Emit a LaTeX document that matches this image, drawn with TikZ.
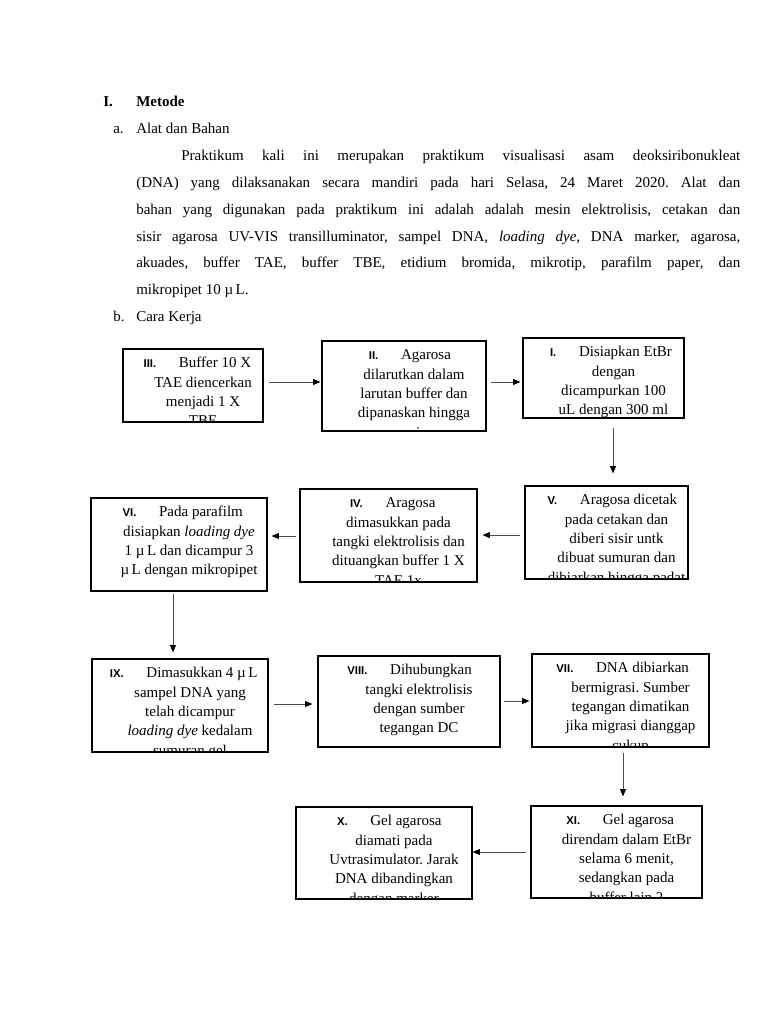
\documentclass[tikz,border=0pt]{standalone}
\usepackage{fontspec}
\setmainfont{Liberation Serif}
\newfontfamily\numfont{Liberation Sans}
\usetikzlibrary{arrows.meta}
\frenchspacing
\newcommand\nm[1]{\hspace*{18pt}\makebox[0pt][r]{{\numfont\bfseries\fontsize{8.5pt}{10pt}\selectfont #1}\hspace{17pt}}}
\newcommand\mkbox[6]{%
  \node[procbox, minimum width={(#4-#2)*0.75pt}, minimum height={(#5-#3)*0.75pt}] (#1) at ({(#2+#4)/2},{(#3+#5)/2}) {};
  \begin{scope}
    \clip (#1.south west) rectangle (#1.north east);
    \node[boxtext] (#1t) at ([xshift=7.5pt,yshift=-4.25pt]#1.north) {\rule{0pt}{10pt}#6};
  \end{scope}}
\begin{document}
\begin{tikzpicture}[x=0.75pt,y=-0.75pt,
  procbox/.style={draw=black, line width=0.9pt, inner sep=0pt},
  boxtext/.style={anchor=north, inner sep=0pt, align=center, font=\fontsize{11.25pt}{14.5pt}\selectfont},
  bodytext/.style={anchor=base west, inner sep=0pt, font=\fontsize{11.25pt}{13pt}\selectfont},
  arr/.style={draw=black!70, line width=0.6pt, -{Triangle[length=5.5pt,width=4.5pt,color=black]}}]
\fill[white] (0,0) rectangle (768,1024);
\useasboundingbox (0,0) rectangle (768,1024);

% heading and body text
\node[bodytext] (h1n) at (103,107) {\textbf{I.}};
\node[bodytext] (h1) at (136,107) {\textbf{Metode}};
\node[bodytext] (ha) at (113,133) {a.};
\node[bodytext] (hat) at (136,133) {Alat dan Bahan};
\node[bodytext] (p1) at (181,160) {\makebox[419.25pt][s]{Praktikum kali ini merupakan praktikum visualisasi asam deoksiribonukleat}};
\node[bodytext] (p2) at (136,187) {\makebox[453pt][s]{(DNA) yang dilaksanakan secara mandiri pada hari Selasa, 24 Maret 2020. Alat dan}};
\node[bodytext] (p3) at (136,214) {\makebox[453pt][s]{bahan yang digunakan pada praktikum ini adalah adalah mesin elektrolisis, cetakan dan}};
\node[bodytext] (p4) at (136,241) {\makebox[453pt][s]{sisir agarosa UV-VIS transilluminator, sampel DNA, \textit{loading dye}, DNA marker, agarosa,}};
\node[bodytext] (p5) at (136,267) {\makebox[453pt][s]{akuades, buffer TAE, buffer TBE, etidium bromida, mikrotip, parafilm paper, dan}};
\node[bodytext] (p6) at (136,294) {mikropipet 10 µ\,L.};
\node[bodytext] (hb) at (113,321) {b.};
\node[bodytext] (hbt) at (136,321) {Cara Kerja};

% boxes
\mkbox{III}{123}{349}{263}{422}{\nm{III.}Buffer 10 X\\TAE diencerkan\\menjadi 1 X\\TBE}
\mkbox{II}{322}{341}{486}{431}{\nm{II.}Agarosa\\dilarutkan dalam\\larutan buffer dan\\dipanaskan hingga\\cair}
\mkbox{I}{523}{338}{684}{418}{\nm{I.}Disiapkan EtBr\\dengan\\dicampurkan 100\\uL dengan 300 ml}
\mkbox{VI}{91}{498}{267}{591}{\nm{VI.}Pada parafilm\\disiapkan \textit{loading dye}\\1 µ\,L dan dicampur 3\\µ\,L dengan mikropipet}
\mkbox{IV}{300}{489}{477}{582}{\nm{IV.}Aragosa\\dimasukkan pada\\tangki elektrolisis dan\\dituangkan buffer 1 X\\TAE 1x}
\mkbox{V}{525}{486}{688}{579}{\nm{V.}Aragosa dicetak\\pada cetakan dan\\diberi sisir untk\\dibuat sumuran dan\\dibiarkan hingga padat}
\mkbox{IX}{92}{659}{268}{752}{\nm{IX.}Dimasukkan 4 µ\,L\\sampel DNA yang\\telah dicampur\\\textit{loading dye} kedalam\\sumuran gel}
\mkbox{VIII}{318}{656}{500}{747}{\nm{VIII.}Dihubungkan\\tangki elektrolisis\\dengan sumber\\tegangan DC}
\mkbox{VII}{532}{654}{709}{747}{\nm{VII.}DNA dibiarkan\\bermigrasi. Sumber\\tegangan dimatikan\\jika migrasi dianggap\\cukup}
\mkbox{X}{296}{807}{472}{899}{\nm{X.}Gel agarosa\\diamati pada\\Uvtrasimulator. Jarak\\DNA dibandingkan\\dengan marker}
\mkbox{XI}{531}{806}{702}{898}{\nm{XI.}Gel agarosa\\direndam dalam EtBr\\selama 6 menit,\\sedangkan pada\\buffer lain 2}

% connectors
\draw[arr, shorten <=3.75pt, shorten >=0.75pt] (III.east |- 0,382) -- (II.west |- 0,382);
\draw[arr, shorten <=3pt, shorten >=1.5pt] (II.east |- 0,382) -- (I.west |- 0,382);
\draw[arr, shorten <=6.75pt, shorten >=9pt] (I.south -| 613,0) -- (V.north -| 613,0);
\draw[arr, shorten <=3pt, shorten >=3.75pt] (V.west |- 0,535) -- (IV.east |- 0,535);
\draw[arr, shorten <=2.25pt, shorten >=3pt] (IV.west |- 0,536) -- (VI.east |- 0,536);
\draw[arr, shorten <=1.5pt, shorten >=4.5pt] (VI.south -| 173,0) -- (IX.north -| 173,0);
\draw[arr, shorten <=3.75pt, shorten >=3.75pt] (IX.east |- 0,704) -- (VIII.west |- 0,704);
\draw[arr, shorten <=2.25pt, shorten >=1.5pt] (VIII.east |- 0,701) -- (VII.west |- 0,701);
\draw[arr, shorten <=3.75pt, shorten >=6.75pt] (VII.south -| 623,0) -- (XI.north -| 623,0);
\draw[arr, shorten <=3pt, shorten >=0pt] (XI.west |- 0,852) -- (X.east |- 0,852);
\end{tikzpicture}
\end{document}
